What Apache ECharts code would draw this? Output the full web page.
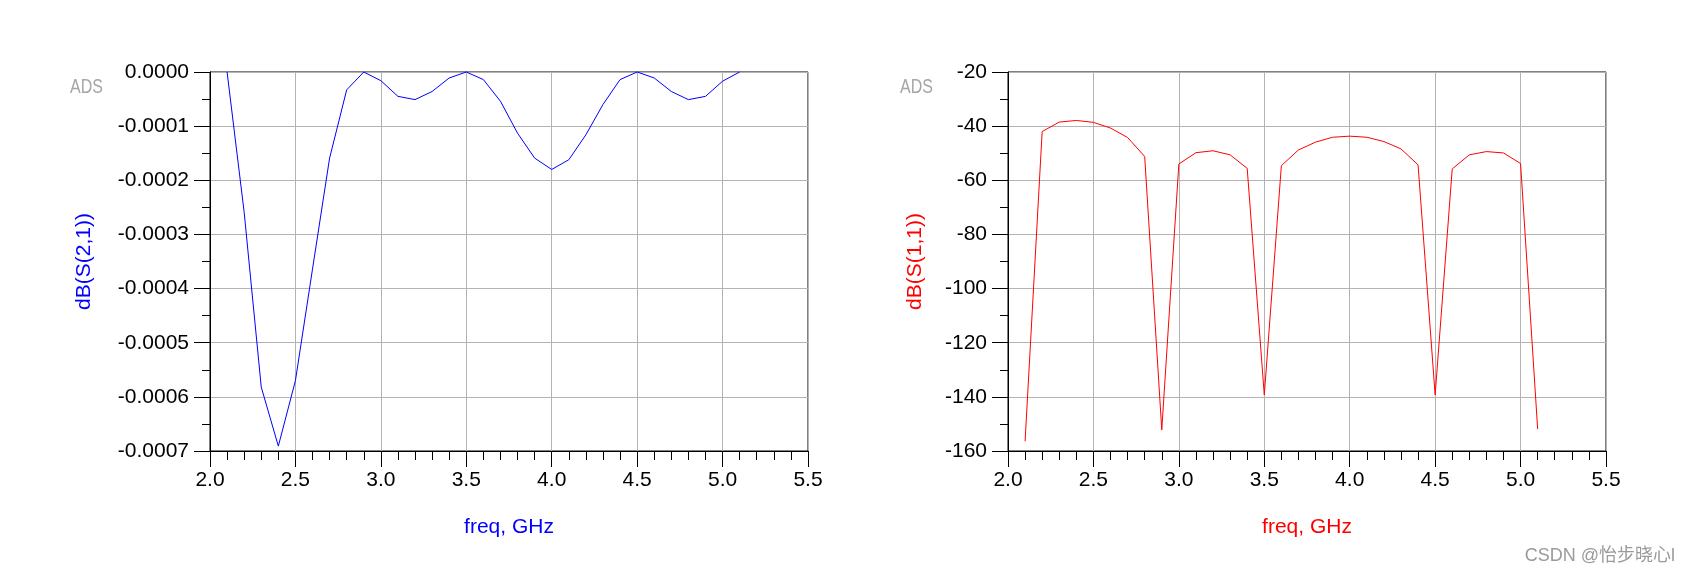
<!DOCTYPE html>
<html>
<head>
<meta charset="utf-8">
<script src="https://cdn.jsdelivr.net/npm/echarts@6/dist/echarts.min.js"></script>
<style>
html,body{margin:0;padding:0;background:#fff;}
#c{width:1691px;height:576px;}
</style>
</head>
<body>
<div id="c"></div>
<script>
const freq = [2.1,2.2,2.3,2.4,2.5,2.6,2.7,2.8,2.9,3.0,3.1,3.2,3.3,3.4,3.5,3.6,3.7,3.8,3.9,4.0,4.1,4.2,4.3,4.4,4.5,4.6,4.7,4.8,4.9,5.0,5.1];
const s21 = [0,-0.000259,-0.000582,-0.000691,-0.000570,-0.000364,-0.000159,-0.000033,0,-0.000016,-0.000045,-0.000051,-0.000036,-0.000011,0,-0.000014,-0.000054,-0.000113,-0.000159,-0.000180,-0.000162,-0.000116,-0.000060,-0.000014,0,-0.000011,-0.000036,-0.000051,-0.000045,-0.000017,0];
const s11 = [-156.4,-42.0,-38.5,-37.9,-38.6,-40.7,-44.2,-51.2,-152.2,-54.0,-49.8,-49.1,-50.6,-55.6,-139.3,-54.6,-48.8,-45.9,-44.1,-43.7,-44.1,-45.7,-48.4,-54.3,-139.3,-55.8,-50.6,-49.4,-49.9,-53.8,-151.9];
const xTitle = 'freq, GHz';
const yTitleLeft = 'dB(S(2,1))';
const yTitleRight = 'dB(S(1,1))';
const watermark = 'CSDN @怡步晓心l';

const FONT = 'Liberation Sans, Arial, sans-serif';
const chart = echarts.init(document.getElementById('c'), null, {renderer:'canvas'});

function xAxisCfg(idx, color){
  return {
    type:'value', gridIndex:idx, min:2, max:5.5, interval:0.5,
    name:xTitle, nameLocation:'middle', nameGap:66,
    nameTextStyle:{color:color, fontFamily:FONT, fontSize:21},
    axisLine:{show:true, onZero:false, lineStyle:{color:'#000', width:1}},
    axisTick:{show:true, length:16, lineStyle:{color:'#000'}},
    minorTick:{show:true, splitNumber:5, length:9, lineStyle:{color:'#000'}},
    axisLabel:{color:'#000', fontFamily:FONT, fontSize:21, margin:19, formatter:v=>v.toFixed(1)},
    splitLine:{show:true, lineStyle:{color:'#b3b3b3', width:1}}
  };
}
function yAxisCfg(idx, min, max, interval, fmt, title, color, gap){
  return {
    type:'value', gridIndex:idx, min:min, max:max, interval:interval,
    name:title, nameLocation:'middle', nameGap:gap, nameRotate:90,
    nameTextStyle:{color:color, fontFamily:FONT, fontSize:21},
    axisLine:{show:true, onZero:false, lineStyle:{color:'#000', width:1}},
    axisTick:{show:true, length:16, lineStyle:{color:'#000'}},
    minorTick:{show:true, splitNumber:2, length:8, lineStyle:{color:'#000'}},
    axisLabel:{color:'#000', fontFamily:FONT, fontSize:21, margin:21, formatter:fmt},
    splitLine:{show:true, lineStyle:{color:'#b3b3b3', width:1}}
  };
}

const adsStyle = {text:'ADS', fontFamily:FONT, fontSize:20, fill:'#a6a6a6', textShadowColor:'#6a6a6a', textShadowOffsetX:1, textShadowOffsetY:1, textShadowBlur:0};

const option = {
  animation:false,
  backgroundColor:'#fff',
  grid:[
    {left:210, top:72, width:598, height:379, show:true, borderColor:'#000', borderWidth:1, backgroundColor:'transparent'},
    {left:1008, top:72, width:598, height:379, show:true, borderColor:'#000', borderWidth:1, backgroundColor:'transparent'}
  ],
  xAxis:[xAxisCfg(0,'#0000ff'), xAxisCfg(1,'#ff0000')],
  yAxis:[
    yAxisCfg(0,-0.0007,0,0.0001,v=>{const s=v.toFixed(4);return s==='-0.0000'?'0.0000':s;},yTitleLeft,'#0000ff',115),
    yAxisCfg(1,-160,-20,20,v=>String(Math.round(v)),yTitleRight,'#ff0000',82)
  ],
  series:[
    {type:'line', xAxisIndex:0, yAxisIndex:0, data:freq.map((f,i)=>[f,s21[i]]), showSymbol:false, symbol:'none', clip:false,
     lineStyle:{color:'#0000ff', width:1}, itemStyle:{color:'#0000ff'}},
    {type:'line', xAxisIndex:1, yAxisIndex:1, data:freq.map((f,i)=>[f,s11[i]]), showSymbol:false, symbol:'none', clip:false,
     lineStyle:{color:'#ff0000', width:1}, itemStyle:{color:'#ff0000'}}
  ],
  graphic:[
    {type:'text', x:70, y:77, scaleX:0.8, style:Object.assign({}, adsStyle)},
    {type:'text', x:900, y:77, scaleX:0.8, style:Object.assign({}, adsStyle)},
    {type:'text', right:16, top:547, style:{text:watermark, fontFamily:'Liberation Sans, Noto Sans CJK SC, sans-serif', fontSize:18, fill:'#9a9a9a'}}
  ]
};
chart.setOption(option);
</script>
</body>
</html>
